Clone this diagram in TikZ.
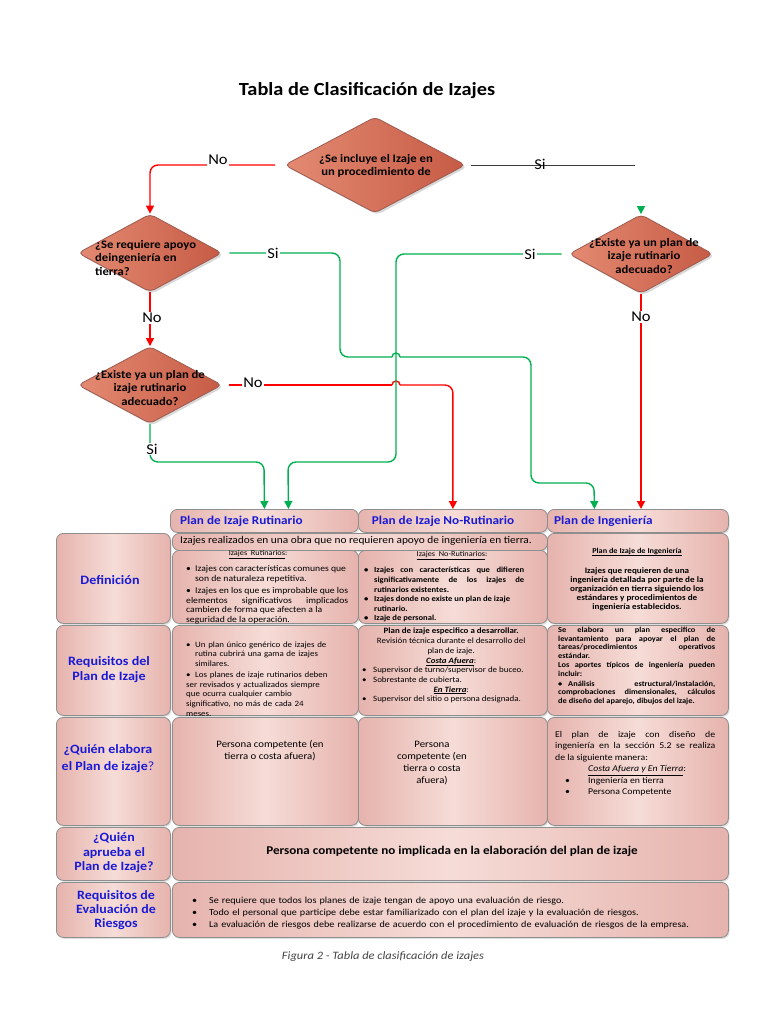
\documentclass[tikz,border=0pt]{standalone}
\usepackage{fontspec}
\setmainfont{Carlito}[FakeStretch=1.1]
\usetikzlibrary{arrows.meta,shapes.geometric,shadows}
\definecolor{cellA}{HTML}{F6DCD7}
\definecolor{cellB}{HTML}{E6B3AD}
\definecolor{cellEdge}{HTML}{8E8E8E}
\definecolor{diaA}{HTML}{E48A72}
\definecolor{diaB}{HTML}{C65B45}
\definecolor{diaEdge}{HTML}{9C5A50}
\definecolor{lblue}{HTML}{1A1AD6}
\definecolor{cred}{HTML}{FF0000}
\definecolor{cgreen}{HTML}{00B050}
\definecolor{cgray}{HTML}{3A3A3A}
\definecolor{captc}{HTML}{444444}
\newcommand{\fs}[2]{\fontsize{#1}{#2}\selectfont}
\newlength{\bulind}
\setlength{\bulind}{9pt}
\newcommand{\bul}[1]{\par\noindent\hangindent=\bulind\hangafter=1\makebox[\bulind][l]{\textbullet}#1}
\setlength{\parindent}{0pt}
\tikzset{
  cell/.style={draw=cellEdge, line width=0.8pt, rounded corners=7pt, left color=cellB, right color=cellB, middle color=cellA, anchor=north west, inner sep=0pt, drop shadow={opacity=0.25, shadow xshift=1.2pt, shadow yshift=-1.5pt}},
  dia/.style={diamond, draw=diaEdge, line width=0.8pt, rounded corners=5pt, left color=diaA, right color=diaB, inner sep=0pt, drop shadow={opacity=0.3, shadow xshift=2pt, shadow yshift=-2pt}},
  dtext/.style={font=\bfseries\fs{11.5}{13.3}, align=center, inner sep=0pt, text=black},
  hd/.style={font=\bfseries\fs{12}{14}, text=lblue, inner sep=0pt},
  lab/.style={font=\bfseries\fs{12.8}{15}, text=lblue, align=center, inner sep=0pt},
  body/.style={inner sep=0pt, anchor=north west, align=justify},
  lineonly/.style={line width=1.4pt, rounded corners=8pt},
  conn/.style={lineonly, -{Triangle[width=8pt,length=8pt]}},
  redc/.style={conn, draw=cred},
  greenc/.style={conn, draw=cgreen},
  redl/.style={lineonly, draw=cred},
  greenl/.style={lineonly, draw=cgreen},
  blackc/.style={draw=cgray, line width=0.9pt},
  tag/.style={font=\fs{15}{16}, fill=white, inner sep=1.2pt},
  titlestyle/.style={font=\bfseries\fs{18.5}{21}, inner sep=0pt}
}
\begin{document}
\begin{tikzpicture}[x=1pt,y=-1pt]
\useasboundingbox (0,0) rectangle (768,1024);
\fill[white] (0,0) rectangle (768,1024);

\node[titlestyle] (title) at (367,91) {Tabla de Clasificación de Izajes};

% diamonds
\node[dia, minimum width=181, minimum height=96] (d1) at (375,165) {};
\node[dia, minimum width=144, minimum height=78] (d2) at (150,253) {};
\node[dia, minimum width=144, minimum height=77] (d3) at (150,385) {};
\node[dia, minimum width=144, minimum height=79] (d4) at (641,254) {};
\node[dtext] (d1t) at (376,166) {¿Se incluye el Izaje en\\un procedimiento de};
\node[dtext, align=left, anchor=west] (d2t) at (95,258) {¿Se requiere apoyo\\deingeniería en\\tierra?};
\node[dtext] (d3t) at (150,388) {¿Existe ya un plan de\\izaje rutinario\\adecuado?};
\node[dtext] (d4t) at (644,256) {¿Existe ya un plan de\\izaje rutinario\\adecuado?};

% table cells
\node[cell, minimum width=188, minimum height=23] (h1) at (170,509) {};
\node[cell, minimum width=189, minimum height=23] (h2) at (358,509) {};
\node[cell, minimum width=181, minimum height=23] (h3) at (547,509) {};

\node[cell, minimum width=114, minimum height=90] (l1) at (56,533) {};
\node[cell, minimum width=114, minimum height=90] (l2) at (56,625) {};
\node[cell, minimum width=114, minimum height=108] (l3) at (56,717) {};
\node[cell, minimum width=114, minimum height=53] (l4) at (56,827) {};
\node[cell, minimum width=114, minimum height=55] (l5) at (56,882) {};

\node[cell, minimum width=375, minimum height=17] (r0) at (172,533) {};
\node[cell, minimum width=186, minimum height=73] (c11) at (172,550) {};
\node[cell, minimum width=189, minimum height=73] (c12) at (358,550) {};
\node[cell, minimum width=181, minimum height=90] (c13) at (547,533) {};

\node[cell, minimum width=186, minimum height=90] (c21) at (172,625) {};
\node[cell, minimum width=189, minimum height=90] (c22) at (358,625) {};
\node[cell, minimum width=181, minimum height=90] (c23) at (547,625) {};

\node[cell, minimum width=186, minimum height=108] (c31) at (172,717) {};
\node[cell, minimum width=189, minimum height=108] (c32) at (358,717) {};
\node[cell, minimum width=181, minimum height=108] (c33) at (547,717) {};

\node[cell, minimum width=556, minimum height=53] (c4) at (172,827) {};
\node[cell, minimum width=556, minimum height=55] (c5) at (172,882) {};

% headers
\node[hd, anchor=west] (h1t) at (180,521) {Plan de Izaje Rutinario};
\node[hd] (h2t) at (443,521) {Plan de Izaje No-Rutinario};
\node[hd, anchor=west] (h3t) at (554,521) {Plan de Ingeniería};

% left labels
\node[lab] (l1t) at (110,580) {Definición};
\node[lab] (l2t) at (109,670) {Requisitos del\\Plan de Izaje};
\node[lab, font=\bfseries\fs{12.7}{17}] (l3t) at (108,759) {¿Quién elabora\\el Plan de izaje{\mdseries ?}};
\node[lab, font=\bfseries\fs{12.7}{14.5}] (l4t) at (114,853) {¿Quién\\aprueba el\\Plan de Izaje?};
\node[lab, font=\bfseries\fs{12.7}{14}] (l5t) at (116,910) {Requisitos de\\Evaluación de\\Riesgos};

% row 0
\node[font=\fs{10.3}{11}, anchor=west, inner sep=0pt] (r0t) at (180,541) {Izajes realizados en una obra que no requieren apoyo de ingeniería en tierra.};

% definicion row
\node[font=\fs{7.5}{8}, inner sep=0pt] (c11h) at (258,555) {\underline{Izajes\ \ Rutinarios}:};
\node[body, text width=162, font=\fs{8.8}{9.7}, align=justify] (c11t) at (186,560) {\setlength{\parskip}{2pt}\setlength{\bulind}{9pt}%
\bul{Izajes con características comunes que\newline son de naturaleza repetitiva.}%
\bul{Izajes en los que es improbable que los\newline elementos significativos implicados\linebreak cambien de forma que afecten a la\newline seguridad de la operación.}};

\node[font=\fs{7.5}{8}, inner sep=0pt] (c12h) at (452,556) {\underline{Izajes\ \ No-Rutinarios}:};
\node[body, text width=160, font=\bfseries\fs{7.8}{9.6}] (c12t) at (364,563) {\setlength{\bulind}{10pt}%
\bul{Izajes con características que difieren\linebreak significativamente de los izajes de\linebreak rutinarios existentes.}%
\bul{Izajes donde no existe un plan de izaje\newline rutinario.}%
\bul{Izaje de personal.}};

\node[font=\bfseries\fs{7.5}{8}, inner sep=0pt] (c13h) at (637,552) {\underline{Plan de Izaje de Ingeniería}};
\node[font=\bfseries\fs{8.3}{9.1}, align=center, inner sep=0pt] (c13t) at (637,589) {Izajes que requieren de una\\ingeniería detallada por parte de la\\organización en tierra siguiendo los\\estándares y procedimientos de\\ingeniería establecidos.};

% requisitos row
\node[body, align=left, text width=165, font=\fs{8.1}{9.6}] (c21t) at (186,636) {\setlength{\parskip}{1.5pt}\setlength{\bulind}{9pt}%
\bul{Un plan único genérico de izajes de\newline rutina cubrirá una gama de izajes\newline similares.}%
\bul{Los planes de izaje rutinarios deben\newline ser revisados y actualizados siempre\newline que ocurra cualquier cambio\newline significativo, no más de cada 24\newline meses.}};

\node[body, text width=178, font=\fs{8.1}{9.7}] (c22t) at (362,628) {\setlength{\bulind}{11pt}%
{\centering\textbf{Plan de izaje especifico a desarrollar.}\par
Revisión técnica durante el desarrollo del\par
plan de izaje.\par
\textbf{\textit{\underline{Costa Afuera}}}:\par}%
\bul{Supervisor de turno/supervisor de buceo.}%
\bul{Sobrestante de cubierta.}%
\par{\centering\textbf{\textit{\underline{En Tierra}}}:\par}%
\bul{Supervisor del sitio o persona designada.}};

\node[body, text width=157, font=\bfseries\fs{7.6}{8.6}] (c23t) at (558,627) {\setlength{\parskip}{1pt}\setlength{\bulind}{10pt}%
Se elabora un plan especifico de\linebreak levantamiento para apoyar el plan de\linebreak tareas/procedimientos operativos\linebreak estándar.\par
Los aportes típicos de ingeniería pueden\linebreak incluir:\par
\bul{Análisis estructural/instalación,\linebreak comprobaciones dimensionales, cálculos\linebreak de diseño del aparejo, dibujos del izaje.}};

% quien elabora row
\node[font=\fs{9.8}{12}, align=center, inner sep=0pt] (c31t) at (270,751) {Persona competente (en\\tierra o costa afuera)};
\node[font=\fs{9.8}{12}, align=center, inner sep=0pt] (c32t) at (432,763) {Persona\\competente (en\\tierra o costa\\afuera)};
\node[body, text width=160, font=\fs{8.9}{11.5}] (c33t) at (555,731) {%
El plan de izaje con diseño de\linebreak ingeniería en la sección 5.2 se realiza\linebreak de la siguiente manera:\par
\hspace*{33pt}\textit{\underline{Costa Afuera y En Tierra}}:\par
\hspace*{10pt}\makebox[23pt][l]{\textbullet}Ingeniería en tierra\par
\hspace*{10pt}\makebox[23pt][l]{\textbullet}Persona Competente};

% quien aprueba
\node[font=\bfseries\fs{11.9}{13}, inner sep=0pt] (c4t) at (452,851) {Persona competente no implicada en la elaboración del plan de izaje};

% evaluacion
\node[body, align=left, text width=535, font=\fs{9.2}{11.6}] (c5t) at (192,892) {\setlength{\bulind}{17pt}%
\bul{Se requiere que todos los planes de izaje tengan de apoyo una evaluación de riesgo.}%
\bul{Todo el personal que participe debe estar familiarizado con el plan del izaje y la evaluación de riesgos.}%
\bul{La evaluación de riesgos debe realizarse de acuerdo con el procedimiento de evaluación de riesgos de la empresa.}};

% caption
\node[font=\itshape\fs{11.3}{12}, text=captc, inner sep=0pt] (cap) at (383,957) {Figura 2 - Tabla de clasificación de izajes};

% connectors
\coordinate (sifree) at (635,165);
\coordinate (hopAin) at (392,357);
\coordinate (hopAout) at (400,357);
\coordinate (hopBin) at (392,385);
\coordinate (hopBout) at (400,385);
\draw[redc] ([xshift=-9pt]d1.west) -| (d2.north);
\draw[blackc] ([xshift=5pt]d1.east) -- (sifree);
\draw[greenc] ([yshift=8.5pt]d4.north) -- (d4.north);
\draw[redc] (d2.south) -- (d3.north);
% d2 -> Plan de Ingenieria (with hop)
\draw[greenl] ([xshift=7pt]d2.east) -- (340,253) -- (340,357) -- (hopAin);
\draw[greenl, rounded corners=0pt] (hopAin) arc[start angle=180,end angle=360,radius=4];
\draw[greenc] (hopAout) -- (531,357) -- (531,483) -- (594,483) -- ([xshift=-43.5pt]h3.north);
% d3 -> Plan No-Rutinario (with hop)
\draw[redl] ([xshift=7pt]d3.east) -- (hopBin);
\draw[redl, rounded corners=0pt] (hopBin) arc[start angle=180,end angle=360,radius=4];
\draw[redc] (hopBout) -| (h2.north);
\draw[greenc] (d3.south) -- (150,462) -- (264,462) -- (h1.north);
\draw[greenc] ([xshift=-7pt]d4.west) -- (396,254) -- (396,462) -- (288,462) -- ([xshift=24pt]h1.north);
\draw[redc] (d4.south) -- (d4.south |- h3.north);

% connector labels
\node[tag] (no1) at (218,160) {No};
\node[tag, fill=none] (si1) at (540,164) {Si};
\node[tag] (si2) at (273,253) {Si};
\node[tag] (no2) at (152,318) {No};
\node[tag] (no3) at (253,383) {No};
\node[tag] (si3) at (152,449) {Si};
\node[tag] (si4) at (530,254) {Si};
\node[tag] (no4) at (641,317) {No};
\end{tikzpicture}
\end{document}
